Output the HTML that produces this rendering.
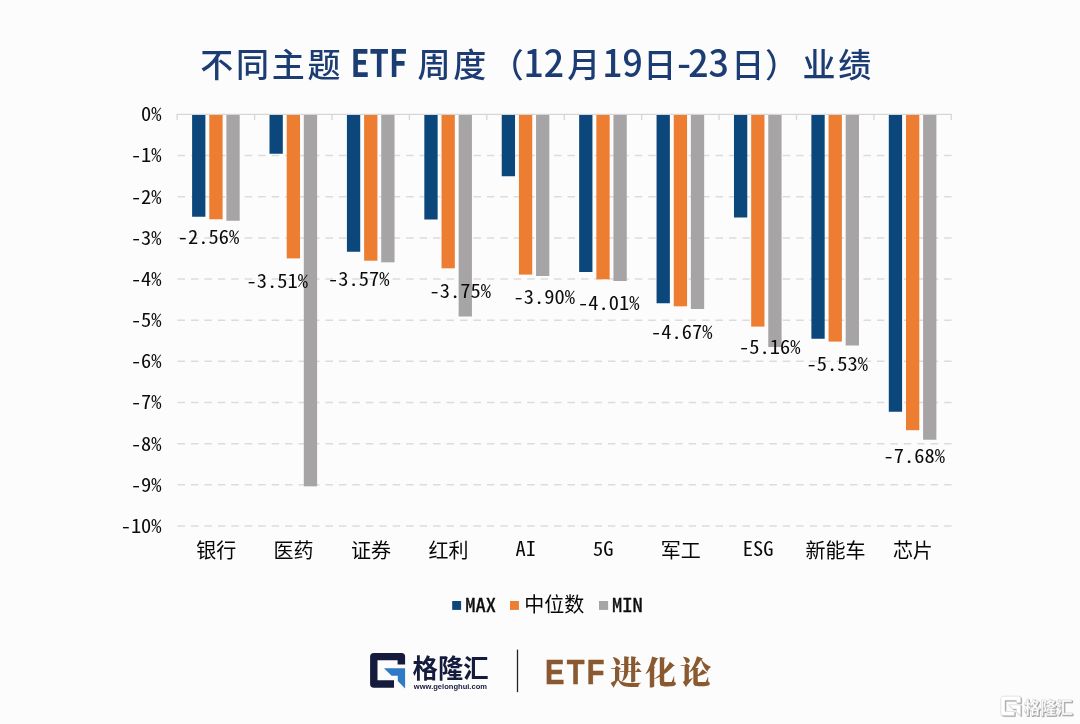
<!DOCTYPE html>
<html lang="zh-CN">
<head>
<meta charset="utf-8">
<title>不同主题 ETF 周度（12月19日-23日）业绩</title>
<style>
html,body{margin:0;padding:0;background:#fdfcfc;}
body{width:1080px;height:724px;overflow:hidden;}
svg{display:block;will-change:transform;}
.t{font-family:"Noto Sans CJK SC","Liberation Sans",sans-serif;font-weight:500;font-size:33px;letter-spacing:2.8px;fill:#1c3d74;}
.tl{font-weight:500;font-size:37.5px;letter-spacing:0;}
.tb{font-weight:700;font-size:37.5px;letter-spacing:0;}
.hw{font-family:"Noto Sans Mono CJK SC","IPAGothic","Liberation Mono",monospace;font-size:20.5px;fill:#0b0b0b;}
.lg{stroke:#0b0b0b;stroke-width:0.4px;}
.cj{font-family:"Liberation Sans","Noto Sans CJK SC",sans-serif;font-size:20px;fill:#060606;}
</style>
</head>
<body>
<svg width="1080" height="724" viewBox="0 0 1080 724">
<rect x="0" y="0" width="1080" height="724" fill="#fdfcfc"/>
<text id="title" class="t" y="76.5" xml:space="preserve"><tspan x="200.20">不同主题 </tspan><tspan class="tb" x="350.50" textLength="56.60" lengthAdjust="spacingAndGlyphs">ETF</tspan><tspan x="407.30"> 周度</tspan><tspan x="490.80">（</tspan><tspan class="tl" x="523.50" textLength="40.61" lengthAdjust="spacingAndGlyphs">12</tspan><tspan x="567.35">月</tspan><tspan class="tl" x="602.20" textLength="40.61" lengthAdjust="spacingAndGlyphs">19</tspan><tspan x="643.30">日</tspan><tspan class="tl" x="676.90" textLength="14.06" lengthAdjust="spacingAndGlyphs">-</tspan><tspan class="tl" x="688.30" textLength="40.61" lengthAdjust="spacingAndGlyphs">23</tspan><tspan x="731.20">日</tspan><tspan x="764.90">）</tspan><tspan x="802.50">业绩</tspan></text>
<g stroke="#dcdcdc" stroke-width="1.5" stroke-dasharray="7.5 5.95" fill="none">
<line x1="177.5" y1="155.56" x2="951.5" y2="155.56"/>
<line x1="177.5" y1="196.72" x2="951.5" y2="196.72"/>
<line x1="177.5" y1="237.88" x2="951.5" y2="237.88"/>
<line x1="177.5" y1="279.04" x2="951.5" y2="279.04"/>
<line x1="177.5" y1="320.20" x2="951.5" y2="320.20"/>
<line x1="177.5" y1="361.36" x2="951.5" y2="361.36"/>
<line x1="177.5" y1="402.52" x2="951.5" y2="402.52"/>
<line x1="177.5" y1="443.68" x2="951.5" y2="443.68"/>
<line x1="177.5" y1="484.84" x2="951.5" y2="484.84"/>
<line x1="177.5" y1="526.00" x2="951.5" y2="526.00"/>
</g>
<rect x="192.10" y="114.80" width="13.3" height="101.95" fill="#0c477c"/>
<rect x="209.30" y="114.80" width="13.3" height="104.50" fill="#ed7d31"/>
<rect x="226.40" y="114.80" width="13.3" height="105.95" fill="#a6a4a4"/>
<rect x="269.51" y="114.80" width="13.3" height="38.95" fill="#0c477c"/>
<rect x="286.71" y="114.80" width="13.3" height="143.60" fill="#ed7d31"/>
<rect x="303.81" y="114.80" width="13.3" height="371.50" fill="#a6a4a4"/>
<rect x="346.92" y="114.80" width="13.3" height="136.95" fill="#0c477c"/>
<rect x="364.12" y="114.80" width="13.3" height="145.90" fill="#ed7d31"/>
<rect x="381.22" y="114.80" width="13.3" height="147.50" fill="#a6a4a4"/>
<rect x="424.33" y="114.80" width="13.3" height="104.70" fill="#0c477c"/>
<rect x="441.53" y="114.80" width="13.3" height="153.50" fill="#ed7d31"/>
<rect x="458.63" y="114.80" width="13.3" height="201.70" fill="#a6a4a4"/>
<rect x="501.74" y="114.80" width="13.3" height="61.45" fill="#0c477c"/>
<rect x="518.94" y="114.80" width="13.3" height="159.80" fill="#ed7d31"/>
<rect x="536.04" y="114.80" width="13.3" height="161.20" fill="#a6a4a4"/>
<rect x="579.15" y="114.80" width="13.3" height="157.20" fill="#0c477c"/>
<rect x="596.35" y="114.80" width="13.3" height="164.50" fill="#ed7d31"/>
<rect x="613.45" y="114.80" width="13.3" height="166.20" fill="#a6a4a4"/>
<rect x="656.56" y="114.80" width="13.3" height="188.45" fill="#0c477c"/>
<rect x="673.76" y="114.80" width="13.3" height="191.50" fill="#ed7d31"/>
<rect x="690.86" y="114.80" width="13.3" height="194.20" fill="#a6a4a4"/>
<rect x="733.97" y="114.80" width="13.3" height="102.70" fill="#0c477c"/>
<rect x="751.17" y="114.80" width="13.3" height="211.80" fill="#ed7d31"/>
<rect x="768.27" y="114.80" width="13.3" height="232.20" fill="#a6a4a4"/>
<rect x="811.38" y="114.80" width="13.3" height="223.95" fill="#0c477c"/>
<rect x="828.58" y="114.80" width="13.3" height="226.80" fill="#ed7d31"/>
<rect x="845.68" y="114.80" width="13.3" height="230.70" fill="#a6a4a4"/>
<rect x="888.79" y="114.80" width="13.3" height="296.95" fill="#0c477c"/>
<rect x="905.99" y="114.80" width="13.3" height="315.40" fill="#ed7d31"/>
<rect x="923.09" y="114.80" width="13.3" height="324.95" fill="#a6a4a4"/>
<g stroke="#d6d6d6" stroke-width="1.3" fill="none">
<line x1="176.5" y1="114.4" x2="951.8" y2="114.4"/>
<line x1="177.20" y1="114.4" x2="177.20" y2="119.9"/>
<line x1="254.61" y1="114.4" x2="254.61" y2="119.9"/>
<line x1="332.02" y1="114.4" x2="332.02" y2="119.9"/>
<line x1="409.43" y1="114.4" x2="409.43" y2="119.9"/>
<line x1="486.84" y1="114.4" x2="486.84" y2="119.9"/>
<line x1="564.25" y1="114.4" x2="564.25" y2="119.9"/>
<line x1="641.66" y1="114.4" x2="641.66" y2="119.9"/>
<line x1="719.07" y1="114.4" x2="719.07" y2="119.9"/>
<line x1="796.48" y1="114.4" x2="796.48" y2="119.9"/>
<line x1="873.89" y1="114.4" x2="873.89" y2="119.9"/>
<line x1="951.30" y1="114.4" x2="951.30" y2="119.9"/>
</g>
<g class="hw" text-anchor="end">
<text transform="translate(161.6 121.25) scale(1 0.915)">0%</text>
<text transform="translate(161.6 162.41) scale(1 0.915)">-1%</text>
<text transform="translate(161.6 203.57) scale(1 0.915)">-2%</text>
<text transform="translate(161.6 244.73) scale(1 0.915)">-3%</text>
<text transform="translate(161.6 285.89) scale(1 0.915)">-4%</text>
<text transform="translate(161.6 327.05) scale(1 0.915)">-5%</text>
<text transform="translate(161.6 368.21) scale(1 0.915)">-6%</text>
<text transform="translate(161.6 409.37) scale(1 0.915)">-7%</text>
<text transform="translate(161.6 450.53) scale(1 0.915)">-8%</text>
<text transform="translate(161.6 491.69) scale(1 0.915)">-9%</text>
<text transform="translate(161.6 532.85) scale(1 0.915)">-10%</text>
</g>
<g class="hw">
<text transform="translate(177.75 243.75) scale(1 0.915)">-2.56%</text>
<text transform="translate(246.50 288.00) scale(1 0.915)">-3.51%</text>
<text transform="translate(328.00 286.25) scale(1 0.915)">-3.57%</text>
<text transform="translate(429.50 298.00) scale(1 0.915)">-3.75%</text>
<text transform="translate(513.50 304.25) scale(1 0.915)">-3.90%</text>
<text transform="translate(578.00 310.00) scale(1 0.915)">-4.01%</text>
<text transform="translate(651.00 338.50) scale(1 0.915)">-4.67%</text>
<text transform="translate(739.00 354.25) scale(1 0.915)">-5.16%</text>
<text transform="translate(806.50 371.25) scale(1 0.915)">-5.53%</text>
<text transform="translate(883.50 463.00) scale(1 0.915)">-7.68%</text>
</g>
<text class="cj" text-anchor="middle" x="216.20" y="558.3">银行</text>
<text class="cj" text-anchor="middle" x="293.62" y="558.3">医药</text>
<text class="cj" text-anchor="middle" x="371.02" y="558.3">证券</text>
<text class="cj" text-anchor="middle" x="448.43" y="558.3">红利</text>
<text class="hw" text-anchor="middle" transform="translate(525.84 556.4) scale(1 0.95)">AI</text>
<text class="hw" text-anchor="middle" transform="translate(603.25 556.4) scale(1 0.95)">5G</text>
<text class="cj" text-anchor="middle" x="680.66" y="558.3">军工</text>
<text class="hw" text-anchor="middle" transform="translate(758.07 556.4) scale(1 0.95)">ESG</text>
<text class="cj" text-anchor="middle" x="835.49" y="558.3">新能车</text>
<text class="cj" text-anchor="middle" x="912.89" y="558.3">芯片</text>
<rect x="452.2" y="601" width="8.9" height="8.9" fill="#0c477c"/>
<text class="hw lg" transform="translate(465.3 612.3) scale(1 0.93)">MAX</text>
<rect x="510" y="601" width="8.9" height="8.9" fill="#ed7d31"/>
<text class="cj" x="524.3" y="612.3">中位数</text>
<rect x="599" y="601" width="9.1" height="8.9" fill="#a6a4a4"/>
<text class="hw lg" transform="translate(612.1 612.3) scale(1 0.93)">MIN</text>
<g id="logo">
<path d="M373.9 652.9 H401.6 Q405.1 652.9 405.1 656.4 V664.6 H397.6 V660.2 H377.5 V680.2 H394 V687.8 H373.9 Q370.1 687.8 370.1 684 V656.7 Q370.1 652.9 373.9 652.9 Z" fill="#151b3c"/>
<path d="M384 668.2 H405.1 V688.5 L397.8 681 V675.7 H391.6 Z" fill="#2f7ac4"/>
<text x="412.6" y="678" font-family="'Liberation Sans','Noto Sans CJK SC',sans-serif" font-weight="700" font-size="26.2" fill="#151b3c" textLength="76" lengthAdjust="spacingAndGlyphs">格隆汇</text>
<text x="413.8" y="689" font-family="'Liberation Sans',sans-serif" font-weight="700" font-size="6.6" fill="#151b3c" textLength="73.2" lengthAdjust="spacingAndGlyphs">www.gelonghui.com</text>
</g>
<line x1="517.5" y1="649.6" x2="517.5" y2="692.2" stroke="#2a2220" stroke-width="1.3"/>
<text y="684.3" fill="#8a5930" font-family="'Liberation Serif','Noto Serif CJK SC',serif" font-weight="900" font-size="31.6" letter-spacing="3.2"><tspan x="544.9" y="684.2" font-family="'Liberation Sans',sans-serif" font-weight="700" font-size="35.6" letter-spacing="3" stroke="#8a5930" stroke-width="0.6" textLength="62.1" lengthAdjust="spacingAndGlyphs">ETF</tspan><tspan x="610.2" y="684.3">进化论</tspan></text>
<defs><filter id="ws" x="-10%" y="-20%" width="125%" height="150%"><feDropShadow dx="0.8" dy="0.8" stdDeviation="0.45" flood-color="#6f6f6f" flood-opacity="0.85"/></filter></defs>
<g id="wm" filter="url(#ws)" fill="#ffffff" stroke="#d2d2d2" stroke-width="0.5">
<path d="M1003.3 696.2 H1018.7 Q1020.7 696.2 1020.7 698.2 V702.8 H1016.6 V700.3 H1005 V711.5 H1014.4 V715.6 H1003.3 Q1000.8 715.6 1000.8 713.1 V698.7 Q1000.8 696.2 1003.3 696.2 Z"/>
<path d="M1008.7 704.8 H1020.7 V716 L1016.6 711.8 V708.9 H1013 Z"/>
<text x="1024" y="713.6" font-family="'Liberation Sans','Noto Sans CJK SC',sans-serif" font-weight="700" font-size="16.6" textLength="48.6" lengthAdjust="spacingAndGlyphs">格隆汇</text>
</g>
</svg>
</body>
</html>
